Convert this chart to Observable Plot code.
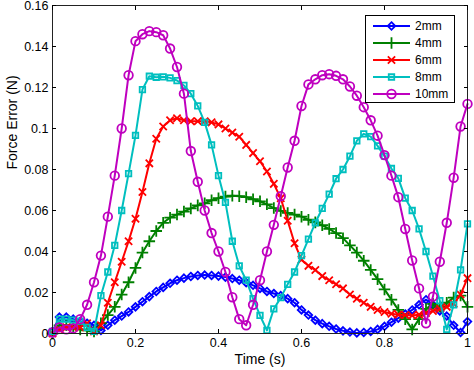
<!DOCTYPE html>
<html><head><meta charset="utf-8">
<script src="https://cdn.jsdelivr.net/npm/d3@7"></script>
<script src="https://cdn.jsdelivr.net/npm/@observablehq/plot@0.6"></script>
<style>
body{margin:0;background:#fff;}
#wrap{position:relative;width:474px;height:370px;font-family:"Liberation Sans",Arial,sans-serif;}
#legend{position:absolute;left:365px;top:15px;width:90px;height:88px;border:1px solid #000;background:#fff;box-sizing:border-box;padding-top:1px;}
.row{display:flex;align-items:center;height:17px;font-size:12px;color:#000;}
.row svg{margin-left:7px;margin-right:5px;}
</style></head><body><div id="wrap"><div id="legend"></div></div>
<script>
const time = [0,0.0167,0.0333,0.05,0.0667,0.0833,0.1,0.1167,0.1333,0.15,
0.1667,0.1833,0.2,0.2167,0.2333,0.25,0.2667,0.2833,0.3,0.3167,
0.3333,0.35,0.3667,0.3833,0.4,0.4167,0.4333,0.45,0.4667,0.4833,
0.5,0.5167,0.5333,0.55,0.5667,0.5833,0.6,0.6167,0.6333,0.65,
0.6667,0.6833,0.7,0.7167,0.7333,0.75,0.7667,0.7833,0.8,0.8167,
0.8333,0.85,0.8667,0.8833,0.9,0.9167,0.9333,0.95,0.9667,0.9833,1];

const series = ["2mm","4mm","6mm","8mm","10mm"];
const colors = ["#0000ff","#008000","#ff0000","#00bfbf","#bf00bf"];
const symbols = ["diamond2","plus","times","square2","circle"];
const radii = [3.4,3.8,3.4,3.5,4.3];

const err2mm = [0.001,0.008,0.008,0.007,0.006,0.005,0.004,0.0015,0.004,0.0065,
0.0085,0.0105,0.013,0.0155,0.018,0.0205,0.0225,0.0245,0.026,0.027,
0.0278,0.0283,0.0285,0.0283,0.028,0.0275,0.0268,0.026,0.0248,0.0235,
0.022,0.0205,0.0195,0.0185,0.017,0.015,0.0115,0.009,0.0065,0.0048,
0.0035,0.0022,0.0013,0.0007,0.0003,0.0005,0.001,0.002,0.0035,0.0055,
0.0075,0.0095,0.0115,0.014,0.0165,0.014,0.011,0.0085,0.004,0.0005,
0.0058];
const err4mm = [0.000,0.004,0.004,0.003,0.002,0.0015,0.001,0.005,0.009,0.013,
0.019,0.025,0.032,0.0395,0.045,0.050,0.054,0.0565,0.058,0.0595,
0.061,0.0625,0.0635,0.065,0.066,0.0668,0.0672,0.067,0.0665,0.0655,
0.0645,0.063,0.0612,0.0598,0.0588,0.058,0.057,0.0555,0.0542,0.0528,
0.051,0.049,0.0465,0.043,0.0395,0.0355,0.031,0.0265,0.0215,0.0165,
0.0115,0.007,0.002,0.007,0.012,0.0145,0.013,0.015,0.0175,0.0185,
0.013];
const err6mm = [0.000,0.002,0.003,0.003,0.003,0.005,0.001,0.004,0.015,0.025,
0.035,0.045,0.056,0.069,0.083,0.095,0.101,0.104,0.105,0.104,
0.1035,0.1035,0.1035,0.103,0.102,0.100,0.098,0.096,0.092,0.088,
0.084,0.079,0.073,0.066,0.055,0.044,0.036,0.033,0.031,0.028,
0.026,0.024,0.022,0.019,0.017,0.015,0.013,0.0115,0.0105,0.0096,
0.0092,0.009,0.0088,0.0092,0.010,0.011,0.012,0.013,0.0145,0.019,
0.027];
const err8mm = [0.001,0.007,0.007,0.0065,0.006,0.003,0.001,0.0185,0.030,0.043,
0.060,0.078,0.0966,0.119,0.1255,0.125,0.1252,0.1247,0.1234,0.121,
0.117,0.111,0.103,0.092,0.077,0.064,0.045,0.033,0.026,0.017,
0.0088,0.0015,0.012,0.0175,0.024,0.030,0.038,0.046,0.054,0.061,
0.068,0.0755,0.080,0.0865,0.094,0.0974,0.096,0.0915,0.0865,0.0805,
0.0757,0.066,0.060,0.051,0.040,0.028,0.016,0.002,0.014,0.031,
0.0535];
const err10mm = [0.0005,0.003,0.002,0.0025,0.007,0.014,0.025,0.038,0.057,0.077,
0.100,0.126,0.1426,0.146,0.1475,0.147,0.1455,0.139,0.130,0.117,
0.089,0.074,0.060,0.049,0.040,0.030,0.0177,0.007,0.004,0.014,
0.026,0.040,0.053,0.067,0.081,0.094,0.111,0.1215,0.124,0.126,
0.1265,0.1257,0.124,0.1205,0.116,0.1104,0.104,0.0965,0.087,0.077,
0.0665,0.051,0.0356,0.022,0.005,0.018,0.035,0.054,0.076,0.101,
0.112];

const xTicks = [0,0.2,0.4,0.6,0.8,1];
const yTicks = [0,0.02,0.04,0.06,0.08,0.1,0.12,0.14,0.16];
const xLabel = "Time (s)";
const yLabel = "Force Error (N)";

const values = [err2mm, err4mm, err6mm, err8mm, err10mm];

const marks = [];
series.forEach((s, k) => {
  const d = time.map((t, i) => ({t, v: values[k][i], s}));
  marks.push(Plot.line(d, {x: "t", y: "v", stroke: colors[k], strokeWidth: 2}));
  marks.push(Plot.dot(d, {x: "t", y: "v", stroke: colors[k], symbol: symbols[k], r: radii[k], strokeWidth: 1.8, fill: "none"}));
});

const fmt = d => d3.format("~g")(d);
marks.push(
  Plot.frame({stroke: "#222", strokeWidth: 1}),
  Plot.axisX({ticks: xTicks, tickSize: -4, tickPadding: 9, tickFormat: fmt, label: null, fontSize: 12.5}),
  Plot.axisX({anchor: "top", ticks: xTicks, tickSize: -4, tickFormat: () => "", label: null}),
  Plot.axisY({ticks: yTicks, tickSize: -4, tickPadding: 8, tickFormat: fmt, label: null, fontSize: 12.5}),
  Plot.axisY({anchor: "right", ticks: yTicks, tickSize: -4, tickFormat: () => "", label: null}),
  Plot.text([xLabel], {frameAnchor: "bottom", dy: 26, fontSize: 14, lineAnchor: "middle"}),
  Plot.text([yLabel], {frameAnchor: "left", dx: -40, rotate: -90, fontSize: 14, lineAnchor: "middle"})
);

const chart = Plot.plot({
  width: 474,
  height: 370,
  marginLeft: 52,
  marginRight: 7,
  marginTop: 5,
  marginBottom: 37,
  x: {domain: [0, 1]},
  y: {domain: [0, 0.16]},
  style: {fontFamily: '"Liberation Sans", Arial, sans-serif', fontSize: "12px", background: "#fff", color: "#000", overflow: "visible"},
  marks
});
const wrap = document.getElementById("wrap");
wrap.insertBefore(chart, wrap.firstChild);

const legend = document.getElementById("legend");
series.forEach((s, k) => {
  const row = document.createElement("div");
  row.className = "row";
  const svg = d3.create("svg").attr("width", 37).attr("height", 14);
  svg.append("line").attr("x1", 0).attr("x2", 37).attr("y1", 7).attr("y2", 7)
    .attr("stroke", colors[k]).attr("stroke-width", 2);
  const symMap = {diamond2: d3.symbolDiamond2, plus: d3.symbolPlus, times: d3.symbolTimes, square2: d3.symbolSquare2, circle: d3.symbolCircle};
  svg.append("path").attr("transform", "translate(18.5,7)")
    .attr("d", d3.symbol(symMap[symbols[k]], Math.PI * radii[k] * radii[k])())
    .attr("fill", "none").attr("stroke", colors[k]).attr("stroke-width", 1.8);
  row.appendChild(svg.node());
  const span = document.createElement("span");
  span.textContent = s;
  row.appendChild(span);
  legend.appendChild(row);
});
</script>
</body></html>
